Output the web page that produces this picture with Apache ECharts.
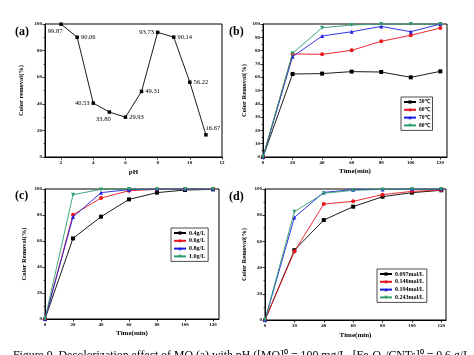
<!DOCTYPE html>
<html><head><meta charset="utf-8">
<script src="https://cdn.jsdelivr.net/npm/echarts@6/dist/echarts.min.js"></script>
<style>html,body{margin:0;padding:0;background:#fff}#c{width:474px;height:355px}</style>
</head><body><div id="c"></div>
<script>
// Panel (a)
const phValues = [2, 3, 4, 5, 6, 7, 8, 9, 10, 11];
const phRemoval = [99.87, 90.06, 40.53, 33.80, 29.93, 49.31, 93.73, 90.14, 56.22, 16.67];
const phLabelPos = ['bl', 'r', 'l', 'bl', 'r', 'r', 'l', 'r', 'r', 'tr'];
// Time axis for (b),(c),(d)
const times = [0, 20, 40, 60, 80, 100, 120];
// Panel (b) temperature
const tempNames = ['50℃', '60℃', '70℃', '80℃'];
const temp50 = [0, 62.4, 62.7, 64.2, 63.9, 59.9, 64.4];
const temp60 = [0, 77.5, 77.2, 80.2, 87.0, 91.5, 97.0];
const temp70 = [0, 75.4, 91.0, 94.2, 98.2, 94.2, 100];
const temp80 = [0, 78.0, 97.2, 99.2, 100, 100, 100];
// Panel (c) dosage
const doseNames = ['0.4g/L', '0.6g/L', '0.8g/L', '1.0g/L'];
const dose04 = [0, 62.0, 78.7, 92.0, 97.2, 99.2, 99.7];
const dose06 = [0, 80.2, 93.0, 98.7, 99.7, 100, 100];
const dose08 = [0, 78.4, 97.2, 99.5, 100, 100, 100];
const dose10 = [0, 95.6, 99.7, 100, 100, 100, 100];
// Panel (d) H2O2 concentration
const concNames = ['0.097mol/L', '0.146mol/L', '0.194mol/L', '0.243mol/L'];
const conc097 = [0, 53.3, 76.3, 86.5, 94.1, 97.2, 99.0];
const conc146 = [0, 52.3, 88.5, 90.6, 95.7, 98.2, 99.2];
const conc194 = [0, 78.3, 97.4, 99.5, 99.7, 100, 100];
const conc243 = [0, 82.7, 96.7, 99.0, 99.7, 100, 100];
const timeTicks = [0, 20, 40, 60, 80, 100, 120];

const F = 'Liberation Serif';
const colors = ['#000000', '#e8141c', '#1c1ce0', '#2e9e6e'];
const symbols = ['rect', 'circle', 'triangle', 'triangle'];
const rot = [0, 0, 0, 180];

const chart = echarts.init(document.getElementById('c'), null, {renderer: 'canvas'});

const grids = [
  {left: 45, top: 24, width: 177, height: 133},
  {left: 263, top: 24, width: 184, height: 133},
  {left: 45, top: 189, width: 174, height: 130},
  {left: 265, top: 189, width: 181, height: 131}
].map(g => Object.assign(g, {show: true, borderColor: '#000', borderWidth: 1, backgroundColor: 'transparent'}));

function xAx(i, name, min, max, labels, gap) {
  return {
    gridIndex: i, type: 'value', min: min, max: max,
    name: name, nameLocation: 'middle', nameGap: gap,
    nameTextStyle: {fontFamily: F, fontWeight: 'bold', fontSize: 7, color: '#000'},
    axisLine: {lineStyle: {color: '#000', width: 1}},
    axisTick: {customValues: labels, length: 2.5, lineStyle: {color: '#000', width: 0.8}},
    axisLabel: {customValues: labels, fontFamily: F, fontSize: 5, color: '#000', margin: 3, fontWeight: 'bold'},
    splitLine: {show: false}
  };
}
function yAx(i, name, interval, gap) {
  return {
    gridIndex: i, type: 'value', min: 0, max: 100, interval: interval,
    name: name, nameLocation: 'middle', nameGap: gap,
    nameTextStyle: {fontFamily: F, fontWeight: 'bold', fontSize: 6.5, color: '#000'},
    axisLine: {show: true, lineStyle: {color: '#000', width: 1}},
    axisTick: {show: true, length: 2.5, lineStyle: {color: '#000', width: 0.8}},
    minorTick: {show: true, splitNumber: 2, length: 1.5, lineStyle: {color: '#000', width: 0.6}},
    axisLabel: {fontFamily: F, fontSize: 5, color: '#000', margin: 3, fontWeight: 'bold'},
    splitLine: {show: false}
  };
}

const xAxes = [
  xAx(0, 'pH', 1, 12, [2, 4, 6, 8, 10, 12], 12),
  xAx(1, 'Time(min)', 0, 124.5, timeTicks, 11),
  xAx(2, 'Time(min)', 0, 124.3, timeTicks, 11),
  xAx(3, 'Time(min)', 0, 123.2, timeTicks, 12)
];
const yAxes = [
  yAx(0, 'Color removal(%)', 20, 20),
  yAx(1, 'Color Removal(%)', 10, 15),
  yAx(2, 'Color Removal(%)', 20, 17),
  yAx(3, 'Color Removal(%)', 20, 17)
];

const posMap = {
  bl: {position: 'bottom', offset: [-6, -1]},
  r: {position: 'right', offset: [-1, 0]},
  l: {position: 'left', offset: [1, 0]},
  tr: {position: 'top', offset: [7, 2]}
};

const series = [];
series.push({
  type: 'line', xAxisIndex: 0, yAxisIndex: 0,
  data: phValues.map((x, k) => ({
    value: [x, phRemoval[k]],
    label: Object.assign({show: true, formatter: phRemoval[k].toFixed(2), fontFamily: F, fontSize: 6.5, color: '#000', distance: 3}, posMap[phLabelPos[k]])
  })),
  symbol: 'rect', symbolSize: 3.5, itemStyle: {color: '#000'},
  lineStyle: {color: '#000', width: 0.9}, animation: false
});

function addGroup(gi, names, arrs) {
  arrs.forEach((arr, k) => {
    series.push({
      type: 'line', name: names[k], xAxisIndex: gi, yAxisIndex: gi,
      data: times.map((t, j) => [t, arr[j]]),
      symbol: symbols[k], symbolRotate: rot[k], symbolSize: 4,
      itemStyle: {color: colors[k]}, lineStyle: {color: colors[k], width: 0.9},
      z: 2 + k, animation: false
    });
  });
}
addGroup(1, tempNames, [temp50, temp60, temp70, temp80]);
addGroup(2, doseNames, [dose04, dose06, dose08, dose10]);
addGroup(3, concNames, [conc097, conc146, conc194, conc243]);

function leg(names, left, top, fs) {
  return {
    data: names, orient: 'vertical', left: left, top: top,
    itemWidth: 12, itemHeight: 4, itemGap: 1.8, padding: [2, 3, 2, 2],
    borderColor: '#000', borderWidth: 0.7,
    textStyle: {fontFamily: F, fontSize: fs, color: '#000', fontWeight: 'bold', padding: [0, 0, 0, -2]},
    selectedMode: false
  };
}

const txt = (t, x, y, fs, extra) => ({type: 'text', left: x, top: y, style: Object.assign({text: t, font: 'bold ' + fs + 'px "' + F + '"', fill: '#000'}, extra || {})});

chart.setOption({
  animation: false,
  grid: grids,
  xAxis: xAxes,
  yAxis: yAxes,
  series: series,
  legend: [
    leg(tempNames, 401, 97, 5.5),
    leg(doseNames, 171, 228, 6),
    leg(concNames, 377, 269, 6)
  ],
  graphic: [
    txt('(a)', 15, 26, 12),
    txt('(b)', 229, 26, 12),
    txt('(c)', 15, 190, 12),
    txt('(d)', 229, 191, 12),
    {type: 'text', left: 13, top: 350, style: {text: 'Figure 9. Decolorization effect of MO (a) with pH ([MO]\u2070 = 100 mg/L, [Fe\u2083O\u2084/CNTs]\u2070 = 0.6 g/L', font: '11.8px "' + F + '"', fill: '#000'}}
  ]
});
</script></body></html>
